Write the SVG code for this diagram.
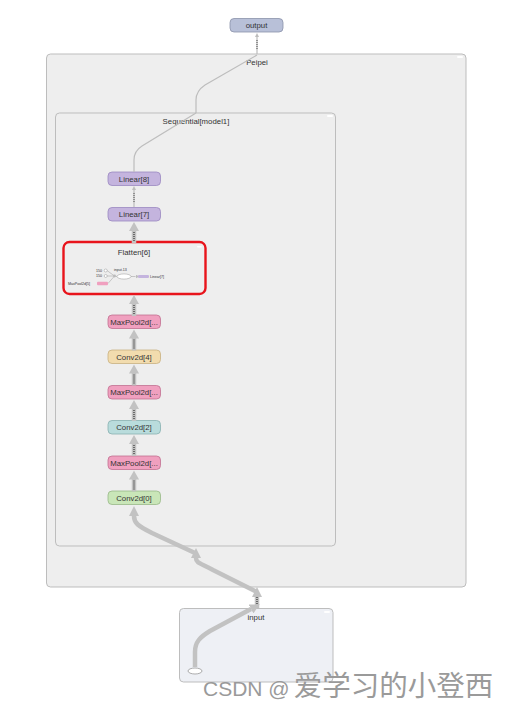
<svg xmlns="http://www.w3.org/2000/svg" width="506" height="709" viewBox="0 0 506 709">
<style>
.box{fill:#eeeeee;stroke:#bdbdbd;stroke-width:1}
.lbl{font-family:"Liberation Sans",Arial,sans-serif;font-size:7.8px;fill:#333;text-anchor:middle}
.tiny{font-family:"Liberation Sans",Arial,sans-serif;font-size:3.6px;fill:#333}
.node{stroke-width:0.8}
.thin{fill:none;stroke:#bdbdbd;stroke-width:1.2}
.thick{fill:none;stroke:#c2c2c2;stroke-width:4.5}
.dash{stroke:#555;stroke-width:1.6;stroke-dasharray:1 1}
.dash2{stroke:#666;stroke-width:1.2;stroke-dasharray:1 1}
.head{fill:#c2c2c2}
.btn{fill:#ffffff;opacity:0.9}
</style>
<defs>
<marker id="mh" markerUnits="userSpaceOnUse" viewBox="0 0 10 10" markerWidth="10" markerHeight="10" refX="0" refY="5" orient="auto">
<path d="M0,0 L10,5 L0,10 z" fill="#c2c2c2"/>
</marker>
<marker id="ms" markerUnits="userSpaceOnUse" viewBox="0 0 10 10" markerWidth="4" markerHeight="4" refX="0" refY="5" orient="auto">
<path d="M0,0 L10,5 L0,10 z" fill="#bdbdbd"/>
</marker>
<g id="up">
<line class="thick" x1="0" y1="9" x2="0" y2="22"/>
<polygon class="head" points="0,1 5,10 -5,10"/>
<line class="dash" x1="0" y1="11" x2="0" y2="21"/>
</g>
</defs>

<g id="peipei">
<rect class="box" x="46.5" y="54" width="419.5" height="533" rx="4"/>
<rect class="btn" x="457" y="56" width="6" height="2" rx="1"/>
<text class="lbl" x="257" y="65">Peipei</text>
</g>
<g id="sequential">
<rect class="box" x="55.5" y="113" width="280" height="433" rx="4"/>
<rect class="btn" x="327" y="115" width="6" height="2" rx="1"/>
<text class="lbl" x="196" y="124">Sequential[model1]</text>
</g>
<g id="input">
<rect x="179.5" y="608.5" width="153.5" height="73.5" rx="4" fill="#eef0f5" stroke="#bdbdbd" stroke-width="1"/>
<rect class="btn" x="324" y="611" width="6" height="2" rx="1"/>
<text class="lbl" x="256" y="620">input</text>
<ellipse cx="195" cy="671" rx="7" ry="3" fill="#fff" stroke="#999" stroke-width="0.8"/>
</g>

<g id="output">
<rect class="node" x="230" y="18.5" width="53" height="13.5" rx="4" fill="#b8c0d8" stroke="#8a92aa"/>
<text class="lbl" x="256.5" y="28">output</text>
</g>

<g id="flatten">
<rect x="63.5" y="242" width="142" height="52" rx="6" fill="#eeeeee" stroke="#e8141c" stroke-width="2.4"/>
<rect class="btn" x="197" y="246" width="5" height="1.5" rx="0.7"/>
<text class="lbl" x="134" y="255">Flatten[6]</text>
<g stroke="#aaa" stroke-width="0.6" fill="none">
<line x1="107" y1="270.5" x2="114.5" y2="276"/>
<line x1="107" y1="276" x2="114.5" y2="276"/>
<line x1="108" y1="283.5" x2="114.5" y2="276"/>
<line x1="114.5" y1="276" x2="117" y2="276.5"/>
<line x1="131" y1="276.5" x2="135.5" y2="276.5" marker-end="url(#ms)"/>
</g>
<circle cx="105.7" cy="270.5" r="1.5" fill="#fff" stroke="#999" stroke-width="0.5"/>
<circle cx="105.7" cy="276" r="1.5" fill="#fff" stroke="#999" stroke-width="0.5"/>
<circle cx="114.5" cy="276" r="1.4" fill="#bbb"/>
<ellipse cx="124" cy="276.5" rx="7" ry="2.6" fill="#fff" stroke="#999" stroke-width="0.5"/>
<rect x="97" y="281.7" width="11" height="3.6" rx="1" fill="#f0a0bf"/>
<rect x="138" y="275" width="11" height="3" rx="1" fill="#c4b4de"/>
<text class="tiny" x="96" y="271.5">150</text>
<text class="tiny" x="96" y="277">150</text>
<text class="tiny" x="114" y="270.5">input.13</text>
<text class="tiny" x="150" y="277.5">Linear[7]</text>
<text class="tiny" x="68" y="284.8">MaxPool2d[5]</text>
</g>

<g id="linear8">
<rect class="node" x="108" y="172" width="52.5" height="13.5" rx="4" fill="#c4b4de" stroke="#9a88c0"/>
<text class="lbl" x="134" y="181.5">Linear[8]</text>
</g>
<g id="linear7">
<rect class="node" x="108" y="207.5" width="52.5" height="13.5" rx="4" fill="#c4b4de" stroke="#9a88c0"/>
<text class="lbl" x="134" y="217">Linear[7]</text>
</g>
<g id="maxpool5">
<rect class="node" x="108" y="315" width="52.5" height="13.5" rx="4" fill="#f0a0bf" stroke="#c07090"/>
<text class="lbl" x="134" y="324.5">MaxPool2d[...</text>
</g>
<g id="conv4">
<rect class="node" x="108" y="350" width="52.5" height="13.5" rx="4" fill="#f2dcae" stroke="#c8b080"/>
<text class="lbl" x="134" y="359.5">Conv2d[4]</text>
</g>
<g id="maxpool3">
<rect class="node" x="108" y="385.5" width="52.5" height="13.5" rx="4" fill="#f0a0bf" stroke="#c07090"/>
<text class="lbl" x="134" y="395">MaxPool2d[...</text>
</g>
<g id="conv2">
<rect class="node" x="108" y="420.5" width="52.5" height="13.5" rx="4" fill="#b9dcdc" stroke="#88b0b0"/>
<text class="lbl" x="134" y="430">Conv2d[2]</text>
</g>
<g id="maxpool1">
<rect class="node" x="108" y="456" width="52.5" height="13.5" rx="4" fill="#f0a0bf" stroke="#c07090"/>
<text class="lbl" x="134" y="465.5">MaxPool2d[...</text>
</g>
<g id="conv0">
<rect class="node" x="108" y="491" width="52.5" height="13.5" rx="4" fill="#c9e6b8" stroke="#98b888"/>
<text class="lbl" x="134" y="500.5">Conv2d[0]</text>
</g>

<g id="connectors">
<line class="thin" x1="257" y1="54" x2="257" y2="37" marker-end="url(#ms)"/>
<line class="dash2" x1="257" y1="40" x2="257" y2="49"/>
<path class="thin" d="M257,55 L205,85 Q196,91 196,100 L196,113"/>
<path class="thin" d="M196,113 L142,146 Q134,151 134,160 L134,172"/>
<line class="thin" x1="134" y1="207" x2="134" y2="190" marker-end="url(#ms)"/>
<line class="dash2" x1="134" y1="193" x2="134" y2="203"/>
<use href="#up" x="134" y="221"/>
<use href="#up" x="134" y="294"/>
<use href="#up" x="134" y="328.5"/>
<use href="#up" x="134" y="363.5"/>
<use href="#up" x="134" y="399"/>
<use href="#up" x="134" y="434"/>
<use href="#up" x="134" y="469.5"/>
<path class="thick" d="M195,553 L152,533 C138,526 134,523 134,516" marker-end="url(#mh)"/>
<path class="thick" d="M257,592 L213,570 C200,563 196,563 196,558" marker-end="url(#mh)"/>
<line class="thick" x1="257" y1="608" x2="257" y2="597" marker-end="url(#mh)"/>
<line class="dash" x1="257" y1="597" x2="257" y2="604"/>
<path class="thick" d="M195,667 L195,652 C195,642 200,637 210,631 L251,609" marker-end="url(#mh)"/>
</g>

<text x="203" y="696" font-family="'Liberation Sans','Noto Sans CJK SC',sans-serif" font-size="21" fill="#9a9a9a">CSDN @<tspan font-family="'Noto Sans CJK SC',sans-serif" font-size="28.5" dx="4">爱学习的小登西</tspan></text>
</svg>
